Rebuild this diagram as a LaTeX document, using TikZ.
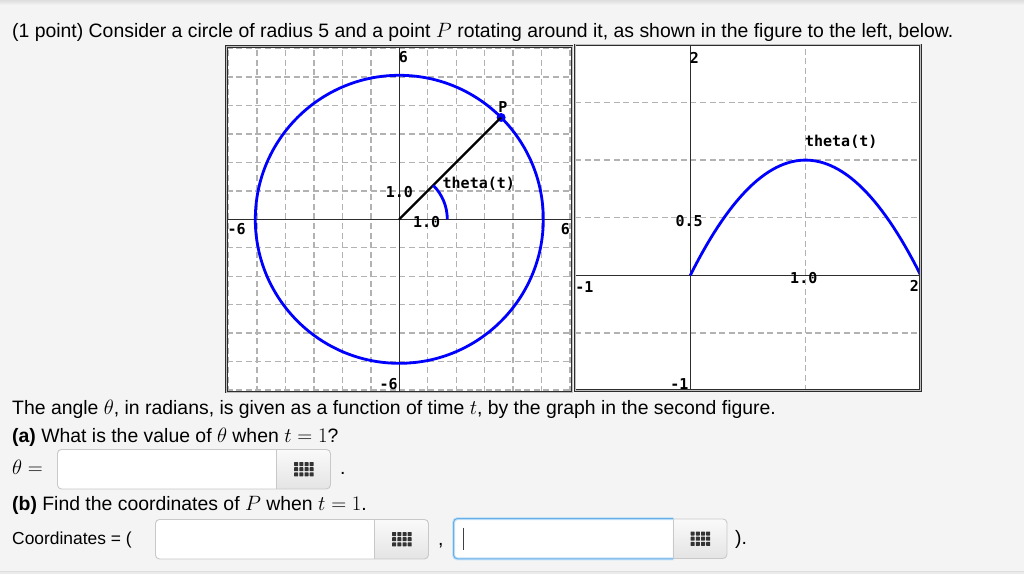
\documentclass[tikz,border=0pt]{standalone}
\usepackage{fontspec}
\setmainfont{Liberation Sans}
\newfontfamily\plotfont{DejaVu Sans Mono}
\usepackage{tikz}

\definecolor{pagebg}{RGB}{244,244,244}
\definecolor{gridgray}{RGB}{178,178,178}
\definecolor{axisgray}{RGB}{45,45,45}
\definecolor{plotblue}{RGB}{0,0,255}
\definecolor{fieldline}{RGB}{200,200,200}
\definecolor{btntop}{RGB}{250,250,250}
\definecolor{btnbot}{RGB}{228,228,228}
\definecolor{focusblue}{RGB}{102,175,233}

\begin{document}
\begin{tikzpicture}
        [
        x = 1pt, y = -1pt,
        qtext/.style = {
            anchor = base west, inner sep = 0pt,
            font = \fontsize{19.4}{23}\selectfont,
        },
        panel/.style = {
            draw = axisgray, double = gray!50,
            double distance = 0.9pt, line width = 0.8pt,
        },
        gridline/.style = {gridgray, line width = 1.3pt, dash pattern = on 6pt off 3.6pt},
        axisline/.style = {axisgray, line width = 1.4pt},
        plotcurve/.style = {plotblue, line width = 2.8pt},
        radiusline/.style = {black, line width = 2.3pt},
        ticklbl/.style = {
            inner sep = 0pt,
            font = \plotfont\bfseries\fontsize{15}{16}\selectfont,
        },
        ansfield/.style = {
            draw = fieldline, fill = white, line width = 0.9pt,
            rounded corners = 4pt,
            minimum width = 273pt, minimum height = 39.5pt,
            inner sep = 0pt, anchor = north west,
            path picture = {
                \fill[sharp corners, top color = btntop, bottom color = btnbot]
                    ([xshift = -54pt]path picture bounding box.north east)
                    rectangle (path picture bounding box.south east);
                \draw[fieldline, line width = 0.9pt]
                    ([xshift = -54pt]path picture bounding box.north east)
                    -- ([xshift = -54pt]path picture bounding box.south east);
            },
        },
        pics/keypad/.style = {
            code = {
                \foreach \col in {0,...,3}
                    \foreach \row in {0,...,2}
                        \fill[black!80, rounded corners = 0.5pt]
                            (\col*5.2pt - 9.8pt, \row*5.2pt - 7.2pt) rectangle ++(4pt,4pt);
            }
        },
        ]

        \useasboundingbox (0,0) rectangle (1024,574);

        % Achtergrond
        \fill[pagebg] (0,0) rectangle (1024,574);
        \shade[top color = black!13, bottom color = pagebg] (0,0) rectangle (1024,5);
        \fill[black!13] (0,570.5) rectangle (1024,571.8);
        \fill[black!8] (0,571.8) rectangle (1024,574);

        % Vraag
        \node[qtext] (intro) at (12,37) {(1 point) Consider a circle of radius 5 and a point $P$ rotating around it, as shown in the figure to the left, below.};

        % Figuur links: cirkel
        \begin{scope}[shift = {(399.3,219.3)}, x = 28.8pt, y = 28.8pt]
            \fill[white] (-6,-6) rectangle (6,6);
            \draw[gridline] (-6,-6) grid (6,6);
            \draw[axisline] (-6,0) -- (6,0);
            \draw[axisline] (0,-6) -- (0,6);
            \coordinate (origin) at (0,0);
            \draw[plotcurve] (origin) circle (5);
            \node[circle, fill = plotblue, inner sep = 0pt, minimum size = 9pt] (P) at (45:5) {};
            \draw[radiusline] (origin) -- (P.center);
            \draw[plotcurve] (5/3,0) arc (0:45:5/3);

            \node[ticklbl] (c_top) at (0.14,5.65) {6};
            \node[ticklbl] (c_left) at (-5.65,-0.35) {-6};
            \node[ticklbl] (c_right) at (5.77,-0.35) {6};
            \node[ticklbl] (c_bottom) at (-0.37,-5.71) {-6};
            \node[ticklbl] (c_yone) at (0,0.95) {1.0};
            \node[ticklbl] (c_xone) at (0.95,-0.08) {1.0};
            \node[ticklbl] (c_theta) at (2.76,1.22) {theta(t)};
            \node[ticklbl] (c_P) at (3.6,3.91) {P};
            \draw[panel] (-6,-6) rectangle (6,6);
        \end{scope}

        % Figuur rechts: grafiek theta(t)
        \begin{scope}[shift = {(690.3,275.3)}, x = 115.2pt, y = 115.2pt]
            \fill[white] (-1,-1) rectangle (2,2);
            \draw[gridline, xstep = 1, ystep = 0.5] (-1,-1) grid (2,2);
            \draw[axisline] (-1,0) -- (2,0);
            \draw[axisline] (0,-1) -- (0,2);
            \draw[plotcurve, domain = 0:2, samples = 60] plot (\x, {\x*(2-\x)});

            \node[ticklbl] (g_top) at (0.036,1.89) {2};
            \node[ticklbl] (g_half) at (-0.01,0.47) {0.5};
            \node[ticklbl] (g_left) at (-0.92,-0.1) {-1};
            \node[ticklbl] (g_one) at (0.985,-0.02) {1.0};
            \node[ticklbl] (g_right) at (1.946,-0.095) {2};
            \node[ticklbl] (g_bottom) at (-0.094,-0.94) {-1};
            \node[ticklbl] (g_theta) at (1.31,1.16) {theta(t)};
            \draw[panel] (-1,-1) rectangle (2,2);
        \end{scope}

        % Vragen en invulvakken
        \node[qtext] (angletext) at (12,414.5) {The angle $\theta$, in radians, is given as a function of time $t$, by the graph in the second figure.};
        \node[qtext] (parta) at (12,442) {\textbf{(a)} What is the value of $\theta$ when $t = 1$?};
        \node[qtext] (thetaeq) at (12,474) {$\theta =$};
        \node[ansfield] (thetafield) at (57,449) {};
        \pic at ([xshift = -27pt]thetafield.east) {keypad};
        \node[qtext] (thetadot) at (340,474) {.};

        \node[qtext] (partb) at (12,510) {\textbf{(b)} Find the coordinates of $P$ when $t = 1$.};
        \node[qtext, font = \fontsize{17.4}{20}\selectfont] (coordtext) at (12,544) {Coordinates = (};
        \node[ansfield] (xfield) at (155,519) {};
        \pic at ([xshift = -27pt]xfield.east) {keypad};
        \node[qtext] (comma) at (438,545) {,};
        \node[ansfield] (yfield) at (453.5,518.5) {};
        \pic at ([xshift = -27pt]yfield.east) {keypad};
        \draw[focusblue!35, line width = 3pt, rounded corners = 4pt]
            ([xshift = -54pt]yfield.north east) -- (yfield.north west)
            -- (yfield.south west) -- ([xshift = -54pt]yfield.south east);
        \draw[focusblue, line width = 1pt, rounded corners = 4pt]
            ([xshift = -54pt]yfield.north east) -- (yfield.north west)
            -- (yfield.south west) -- ([xshift = -54pt]yfield.south east);
        \draw[black!75, line width = 0.9pt] ([xshift = 9.5pt]yfield.west) +(0,-10.8) -- +(0,10.8);
        \node[qtext] (closing) at (735,544) {).};
\end{tikzpicture}
\end{document}
